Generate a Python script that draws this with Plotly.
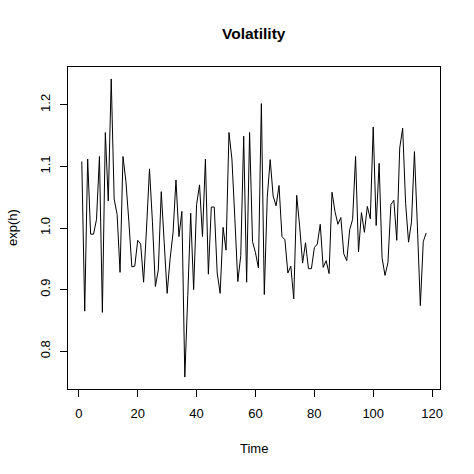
import plotly.graph_objects as go

time = list(range(1, 119))
exp_h = [
    1.108, 0.865, 1.112, 0.990, 0.990, 1.014, 1.116, 0.863, 1.155, 1.044,
    1.242, 1.047, 1.022, 0.928, 1.116, 1.075, 1.010, 0.937, 0.938, 0.980,
    0.974, 0.912, 1.000, 1.096, 1.010, 0.905, 0.932, 1.059, 0.976, 0.894,
    0.950, 0.992, 1.078, 0.986, 1.027, 0.758, 0.890, 1.024, 0.900, 1.038,
    1.070, 0.986, 1.112, 0.925, 1.034, 1.034, 0.927, 0.894, 1.001, 0.964,
    1.155, 1.112, 1.015, 0.913, 0.955, 1.149, 0.912, 1.155, 0.978, 0.960,
    0.935, 1.202, 0.892, 1.050, 1.111, 1.052, 1.036, 1.069, 0.986, 0.981,
    0.927, 0.938, 0.885, 1.053, 1.003, 0.943, 0.976, 0.934, 0.934, 0.968,
    0.974, 1.006, 0.936, 0.947, 0.926, 1.058, 1.027, 1.006, 1.017, 0.958,
    0.947, 0.997, 1.014, 1.116, 0.961, 1.025, 0.993, 1.035, 1.015, 1.164,
    1.004, 1.105, 0.952, 0.923, 0.944, 1.038, 1.045, 0.980, 1.130, 1.162,
    1.040, 0.977, 1.010, 1.124, 1.003, 0.874, 0.978, 0.992,
]
x_ticks = [0, 20, 40, 60, 80, 100, 120]
y_ticks = [0.8, 0.9, 1.0, 1.1, 1.2]
y_tick_labels = ["0.8", "0.9", "1.0", "1.1", "1.2"]

FONT = "Liberation Sans, Arial, Helvetica, sans-serif"

fig = go.Figure()
fig.add_trace(go.Scatter(
    x=time, y=exp_h, mode="lines",
    line=dict(color="black", width=1),
    showlegend=False, hoverinfo="skip",
))

xmin, xmax = min(time), max(time)
ymin, ymax = min(exp_h), max(exp_h)
xpad = 0.04 * (xmax - xmin)
ypad = 0.04 * (ymax - ymin)

axis_common = dict(
    showgrid=False, zeroline=False,
    showline=True, linecolor="black", linewidth=1, mirror=True,
    ticks="outside", ticklen=7, tickwidth=1, tickcolor="black",
    tickfont=dict(family=FONT, size=13, color="black"),
)

fig.update_layout(
    width=474, height=474,
    margin=dict(l=68, r=34, t=67, b=85),
    paper_bgcolor="white", plot_bgcolor="white",
    font=dict(family=FONT, color="black"),
    xaxis=dict(range=[xmin - xpad, xmax + xpad], tickvals=x_ticks,
               ticklabelstandoff=5, **axis_common),
    yaxis=dict(range=[ymin - ypad, ymax + ypad], tickvals=y_ticks,
               ticktext=y_tick_labels, tickangle=-90,
               ticklabelstandoff=5, **axis_common),
    annotations=[
        dict(text="<b>Volatility</b>", xref="paper", yref="paper",
             x=0.5, y=1, yshift=34, xanchor="center", yanchor="middle",
             showarrow=False, font=dict(family=FONT, size=15.5, color="black")),
        dict(text="Time", xref="paper", yref="paper",
             x=0.5, y=0, yshift=-59, xanchor="center", yanchor="middle",
             showarrow=False, font=dict(family=FONT, size=13, color="black")),
        dict(text="exp(h)", xref="paper", yref="paper",
             x=0, y=0.5, xshift=-56, xanchor="center", yanchor="middle",
             textangle=-90,
             showarrow=False, font=dict(family=FONT, size=13, color="black")),
    ],
)

fig.write_html("out.html")
